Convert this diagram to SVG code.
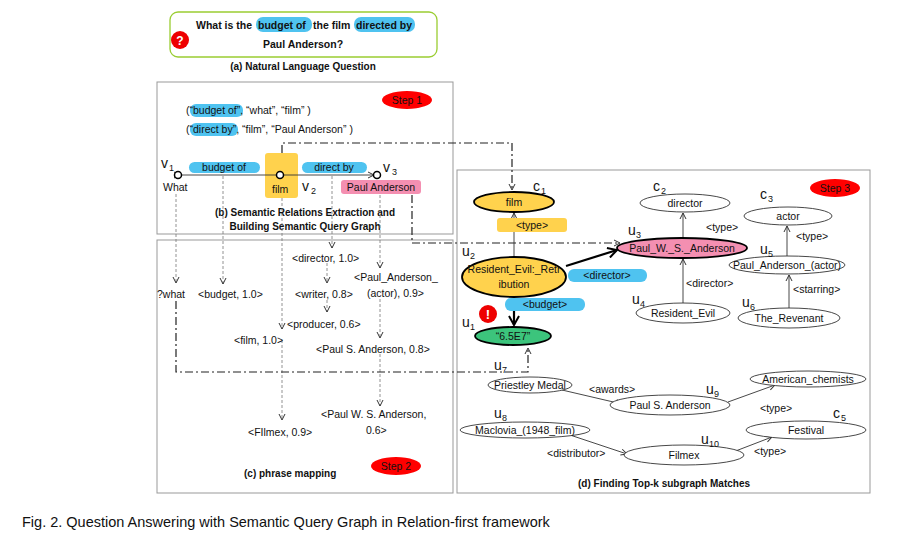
<svg xmlns="http://www.w3.org/2000/svg" width="922" height="545" viewBox="0 0 922 545">
<defs>
<marker id="oa" markerWidth="8" markerHeight="8" refX="7" refY="4" orient="auto" markerUnits="userSpaceOnUse"><path d="M1,1 L7,4 L1,7" fill="none" stroke="#333" stroke-width="1"/></marker>
<marker id="ta" markerWidth="12" markerHeight="12" refX="10" refY="6" orient="auto" markerUnits="userSpaceOnUse"><path d="M1,1 L10,6 L1,11" fill="none" stroke="#000" stroke-width="2"/></marker>
</defs>
<style>
text{font-family:"Liberation Sans",Arial,sans-serif;font-size:10.5px;fill:#111}
.b{font-weight:bold}
.cap{font-weight:bold;font-size:10px}
.q{font-weight:bold;font-size:10.5px}
.box{fill:none;stroke:#999;stroke-width:1}
.dash{fill:none;stroke:#777;stroke-width:0.8;stroke-dasharray:3,2}
.dd{fill:none;stroke:#222;stroke-width:1.2;stroke-dasharray:8,3,2,3}
.thin{fill:none;stroke:#333;stroke-width:0.9}
.thick{fill:none;stroke:#000;stroke-width:2.2}
.en{fill:#fff;stroke:#333;stroke-width:0.9}
.blue{fill:#4fc3f0}
.lbl{font-size:14px}
.sub{font-size:9px}
.step{fill:#f00}
.fig{font-size:14.5px}
</style>
<rect width="922" height="545" fill="#fff"/>
<g id="question">
<rect x="170" y="12" width="267" height="45" rx="8" fill="#fff" stroke="#9acd32" stroke-width="1.3"/>
<rect x="256" y="17" width="56" height="15" rx="7" class="blue"/>
<rect x="354" y="17" width="61" height="15" rx="7" class="blue"/>
<text x="196" y="29" class="q">What is the</text>
<text x="258" y="29" class="q">budget of</text>
<text x="313" y="29" class="q">the film</text>
<text x="356" y="29" class="q">directed by</text>
<text x="303" y="48" class="q" text-anchor="middle">Paul Anderson?</text>
<circle cx="180" cy="40" r="9" fill="#e00"/>
<text x="180" y="44.5" text-anchor="middle" class="b" style="fill:#fff;font-size:12px">?</text>
<text x="303" y="70" class="cap" text-anchor="middle">(a) Natural Language Question</text>
</g>
<rect class="box" x="157" y="82" width="296" height="152"/>
<rect class="box" x="157" y="240" width="296" height="253"/>
<rect class="box" x="457" y="170" width="413" height="323"/>
<g id="steps">
<ellipse cx="407" cy="100" rx="25" ry="9" class="step"/><text x="407" y="104" text-anchor="middle">Step 1</text>
<ellipse cx="396" cy="466" rx="25" ry="9" class="step"/><text x="396" y="470" text-anchor="middle">Step 2</text>
<ellipse cx="835" cy="188" rx="25" ry="9" class="step"/><text x="835" y="192" text-anchor="middle">Step 3</text>
</g>
<g id="tuples">
<rect x="190" y="104" width="53" height="13" rx="6" class="blue"/>
<text x="186" y="114">(“budget of”, “what”, “film” )</text>
<rect x="190" y="123" width="48" height="13" rx="6" class="blue"/>
<text x="186" y="133">(“direct by”, “film”, “Paul Anderson” )</text>
</g>
<g id="query-graph">
<rect x="265" y="153" width="33" height="45" rx="3" fill="#ffd24d"/>
<rect x="189" y="162" width="71" height="11" rx="5.5" class="blue"/>
<rect x="302" y="162" width="65" height="11" rx="5.5" class="blue"/>
<text x="224" y="171" text-anchor="middle">budget of</text>
<text x="334" y="171" text-anchor="middle">direct by</text>
<line x1="180" y1="175" x2="374" y2="175" class="thin" marker-start="url(#oa)" marker-end="url(#oa)"/>
<g id="v1"><circle cx="178" cy="175" r="3.5" fill="#fff" stroke="#000" stroke-width="1.5"/><text x="161" y="168" class="lbl">v</text><text x="169" y="171" class="sub">1</text><text x="163" y="191">What</text></g>
<g id="v2"><circle cx="280" cy="175" r="3.5" fill="#fff" stroke="#000" stroke-width="1.5"/><text x="272" y="193">film</text><text x="302" y="191" class="lbl">v</text><text x="311" y="194" class="sub">2</text></g>
<g id="v3"><circle cx="377" cy="175" r="3.5" fill="#fff" stroke="#000" stroke-width="1.5"/><text x="383" y="172" class="lbl">v</text><text x="392" y="175" class="sub">3</text>
<rect x="341" y="180" width="80" height="14" rx="3" fill="#f48fb1"/><text x="381" y="191" text-anchor="middle">Paul Anderson</text></g>
<text x="305" y="216" class="cap" text-anchor="middle">(b) Semantic Relations Extraction and</text>
<text x="305" y="230" class="cap" text-anchor="middle">Building Semantic Query Graph</text>
</g>
<g id="connectors">
<path class="dash" d="M176 194 V283" marker-end="url(#oa)"/>
<path class="dash" d="M223 176 V284" marker-end="url(#oa)"/>
<path class="dash" d="M282 198 V329" marker-end="url(#oa)"/>
<path class="dash" d="M282 340 V420" marker-end="url(#oa)"/>
<path class="dash" d="M332 176 V248" marker-end="url(#oa)"/>
<path class="dash" d="M327 263 V283" marker-end="url(#oa)"/>
<path class="dash" d="M327 300 V312" marker-end="url(#oa)"/>
<path class="dash" d="M380 195 V268" marker-end="url(#oa)"/>
<path class="dash" d="M380 299 V338" marker-end="url(#oa)"/>
<path class="dash" d="M380 354 V406" marker-end="url(#oa)"/>
<path class="dd" d="M282 153 V143 H512 V190" marker-end="url(#oa)"/>
<path class="dd" d="M412 195 V243 H620" marker-end="url(#oa)"/>
<path class="dd" d="M176 301 V372 H528 V348" marker-end="url(#oa)"/>
<line class="thin" x1="514" y1="257" x2="514" y2="213" marker-end="url(#oa)"/>
<line class="thick" x1="566" y1="266" x2="617" y2="250" marker-end="url(#ta)"/>
<line class="thick" x1="514" y1="297" x2="514" y2="325" marker-end="url(#ta)"/>
<line class="thin" x1="683" y1="238" x2="683" y2="213" marker-end="url(#oa)"/>
<line class="thin" x1="683" y1="303" x2="683" y2="259" marker-end="url(#oa)"/>
<line class="thin" x1="787" y1="256" x2="787" y2="226" marker-end="url(#oa)"/>
<line class="thin" x1="789" y1="308" x2="789" y2="275" marker-end="url(#oa)"/>
<line class="thin" x1="562" y1="390" x2="622" y2="404" marker-end="url(#oa)"/>
<line class="thin" x1="728" y1="402" x2="775" y2="385" marker-end="url(#oa)"/>
<line class="thin" x1="570" y1="435" x2="627" y2="454" marker-end="url(#oa)"/>
<line class="thin" x1="733" y1="452" x2="772" y2="437" marker-end="url(#oa)"/>
</g>
<g id="mapping">
<text x="157" y="298">?what</text>
<text x="198" y="298">&lt;budget, 1.0&gt;</text>
<text x="292" y="262">&lt;director, 1.0&gt;</text>
<text x="295" y="298">&lt;writer, 0.8&gt;</text>
<text x="287" y="328">&lt;producer, 0.6&gt;</text>
<text x="234" y="344">&lt;film, 1.0&gt;</text>
<text x="354" y="281">&lt;Paul_Anderson_</text>
<text x="367" y="297">(actor), 0.9&gt;</text>
<text x="316" y="353">&lt;Paul S. Anderson, 0.8&gt;</text>
<text x="321" y="418">&lt;Paul W. S. Anderson,</text>
<text x="366" y="434">0.6&gt;</text>
<text x="248" y="436">&lt;FIlmex, 0.9&gt;</text>
<text x="244" y="477" class="cap">(c) phrase mapping</text>
</g>
<g id="c1"><ellipse cx="514" cy="202" rx="40" ry="10" fill="#ffd24d" stroke="#000" stroke-width="1.8"/><text x="514" y="206" text-anchor="middle">film</text><text x="533" y="191" class="lbl">c</text><text x="541" y="194" class="sub">1</text></g>
<rect x="497" y="218" width="70" height="14" rx="3" fill="#ffd24d"/><text x="532" y="229" text-anchor="middle">&lt;type&gt;</text>
<g id="u2"><ellipse cx="514" cy="277" rx="52" ry="20" fill="#ffd24d" stroke="#000" stroke-width="1.8"/><text x="514" y="273" text-anchor="middle">Resident_Evil:_Retr</text><text x="514" y="288" text-anchor="middle">ibution</text><text x="462" y="256" class="lbl">u</text><text x="470" y="259" class="sub">2</text></g>
<rect x="568" y="269" width="79" height="13" rx="6" class="blue"/><text x="607" y="279" text-anchor="middle">&lt;director&gt;</text>
<rect x="505" y="298" width="80" height="13" rx="6" class="blue"/><text x="545" y="308" text-anchor="middle">&lt;budget&gt;</text>
<circle cx="488" cy="314" r="9" fill="#e00"/><text x="488" y="319" text-anchor="middle" class="b" style="fill:#fff;font-size:13px">!</text>
<g id="u1"><ellipse cx="513" cy="336" rx="38" ry="9" fill="#3cc47c" stroke="#000" stroke-width="1.8"/><text x="513" y="340" text-anchor="middle">“6.5E7”</text><text x="462" y="327" class="lbl">u</text><text x="470" y="330" class="sub">1</text></g>
<g id="u3"><ellipse cx="682" cy="248" rx="65" ry="10" fill="#f48fb1" stroke="#000" stroke-width="1.8"/><text x="682" y="252" text-anchor="middle">Paul_W._S._Anderson</text><text x="628" y="235" class="lbl">u</text><text x="636" y="238" class="sub">3</text></g>
<g id="c2"><ellipse cx="685" cy="203" rx="45" ry="9" class="en"/><text x="685" y="207" text-anchor="middle">director</text><text x="653" y="191" class="lbl">c</text><text x="661" y="194" class="sub">2</text></g>
<text x="706" y="231">&lt;type&gt;</text>
<g id="u4"><ellipse cx="683" cy="313" rx="47" ry="10" class="en"/><text x="683" y="317" text-anchor="middle">Resident_Evil</text><text x="632" y="304" class="lbl">u</text><text x="640" y="307" class="sub">4</text></g>
<text x="686" y="287">&lt;director&gt;</text>
<g id="c3"><ellipse cx="788" cy="216" rx="44" ry="9" class="en"/><text x="788" y="220" text-anchor="middle">actor</text><text x="760" y="199" class="lbl">c</text><text x="768" y="202" class="sub">3</text></g>
<text x="796" y="240">&lt;type&gt;</text>
<g id="u5"><ellipse cx="787" cy="265" rx="58" ry="9" class="en"/><text x="787" y="269" text-anchor="middle">Paul_Anderson_(actor)</text><text x="760" y="254" class="lbl">u</text><text x="768" y="257" class="sub">5</text></g>
<text x="793" y="293">&lt;starring&gt;</text>
<g id="u6"><ellipse cx="789" cy="318" rx="51" ry="10" class="en"/><text x="789" y="322" text-anchor="middle">The_Revenant</text><text x="742" y="307" class="lbl">u</text><text x="750" y="310" class="sub">6</text></g>
<g id="u7"><ellipse cx="530" cy="385" rx="42" ry="8" class="en"/><text x="530" y="389" text-anchor="middle">Priestley Medal</text><text x="494" y="370" class="lbl">u</text><text x="502" y="373" class="sub">7</text></g>
<text x="589" y="393">&lt;awards&gt;</text>
<g id="u9"><ellipse cx="670" cy="405" rx="60" ry="10" class="en"/><text x="670" y="409" text-anchor="middle">Paul S. Anderson</text><text x="706" y="394" class="lbl">u</text><text x="714" y="397" class="sub">9</text></g>
<g id="am"><ellipse cx="808" cy="379" rx="58" ry="8" class="en"/><text x="808" y="383" text-anchor="middle">American_chemists</text></g>
<text x="760" y="412">&lt;type&gt;</text>
<g id="u8"><ellipse cx="525" cy="430" rx="65" ry="8" class="en"/><text x="525" y="434" text-anchor="middle">Maclovia_(1948_film)</text><text x="494" y="418" class="lbl">u</text><text x="502" y="421" class="sub">8</text></g>
<text x="547" y="457">&lt;distributor&gt;</text>
<g id="u10"><ellipse cx="684" cy="455" rx="60" ry="10" class="en"/><text x="684" y="459" text-anchor="middle">Filmex</text><text x="701" y="444" class="lbl">u</text><text x="709" y="447" class="sub">10</text></g>
<g id="c5"><ellipse cx="806" cy="430" rx="60" ry="9" class="en"/><text x="806" y="434" text-anchor="middle">Festival</text><text x="833" y="418" class="lbl">c</text><text x="841" y="421" class="sub">5</text></g>
<text x="754" y="455">&lt;type&gt;</text>
<text x="664" y="487" class="cap" text-anchor="middle">(d)  Finding Top-k subgraph Matches</text>
<text x="22" y="527" class="fig">Fig. 2. Question Answering with Semantic Query Graph in Relation-first framework</text>
</svg>
